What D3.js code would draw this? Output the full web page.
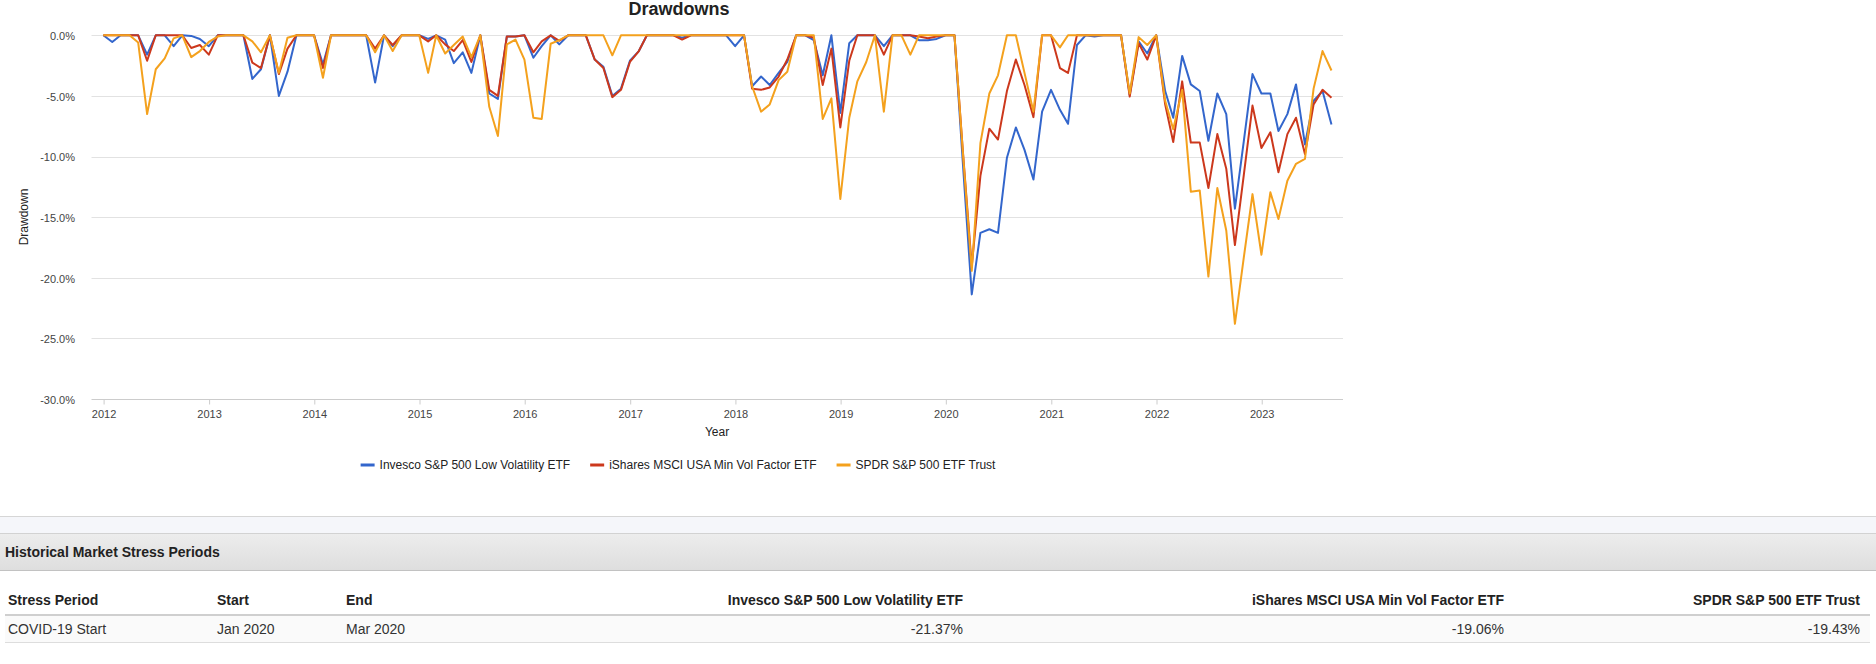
<!DOCTYPE html>
<html>
<head>
<meta charset="utf-8">
<title>Drawdowns</title>
<script src="https://cdnjs.cloudflare.com/ajax/libs/d3/7.8.5/d3.min.js"></script>
<style>
  body { margin: 0; background: #fff; }
  svg text { font-family: Arial, "Liberation Sans", sans-serif; }
</style>
</head>
<body>
<svg id="chart" width="1876" height="664"></svg>
<script>
var seriesNames = [
  "Invesco S&P 500 Low Volatility ETF",
  "iShares MSCI USA Min Vol Factor ETF",
  "SPDR S&P 500 ETF Trust"
];
var seriesColors = ["#3366cc", "#cc381c", "#f4a11d"];
var years = [2012, 2013, 2014, 2015, 2016, 2017, 2018, 2019, 2020, 2021, 2022, 2023];
var yTicks = [0, -5, -10, -15, -20, -25, -30];

// month-end drawdowns (%), Dec 2011 .. Aug 2023
var invesco = [
  0, -0.55, 0, 0, 0, -1.6, 0, 0, -0.9, 0, -0.05, -0.3,
  -0.9, 0, 0, 0, 0, -3.6, -2.8, 0, -5.0, -3.0, 0, 0,
  0, -2.4, 0, 0, 0, 0, 0, -3.9, 0, -0.9, 0, 0,
  0, -0.3, 0, -0.35, -2.3, -1.4, -3.1, 0, -4.8, -5.25, -0.1, -0.1,
  0, -1.85, -0.9, 0, -0.75, 0, 0, 0, -2.0, -2.6, -5.0, -4.4,
  -2.1, -1.3, 0, 0, 0, 0, -0.2, 0, 0, 0, 0, 0,
  -0.9, 0, -4.2, -3.4, -4.1, -3.1, -2.2, 0, 0, -0.4, -3.3, 0,
  -6.4, -0.65, 0, 0, 0, -0.9, 0, 0, 0, -0.4, -0.4, -0.3,
  0, 0, -10.5, -21.37, -16.3, -16.0, -16.3, -10.1, -7.6, -9.45, -11.9, -6.3,
  -4.5, -6.15, -7.3, -0.8, 0, -0.1, 0, 0, 0, -4.9, -0.5, -1.5,
  0, -4.6, -6.8, -1.7, -4.05, -4.6, -8.7, -4.8, -6.5, -14.3, -8.7, -3.2,
  -4.8, -4.8, -7.9, -6.5, -4.05, -9.0, -5.4, -4.6, -7.35
];
var ishares = [
  0, 0, 0, 0, 0, -2.1, 0, 0, 0, 0, -1.05, -0.8,
  -1.6, 0, 0, 0, 0, -2.25, -2.7, 0, -3.2, -1.1, 0, 0,
  0, -2.7, 0, 0, 0, 0, 0, -1.1, 0, -0.8, 0, 0,
  0, -0.5, 0, -0.75, -1.3, -0.4, -2.2, 0, -4.5, -5.0, -0.1, -0.1,
  0, -1.4, -0.5, 0, -0.45, 0, 0, 0, -2.0, -2.7, -5.1, -4.5,
  -2.2, -1.3, 0, 0, 0, 0, -0.35, 0, 0, 0, 0, 0,
  0, 0, -4.4, -4.5, -4.3, -3.4, -2.0, 0, 0, -0.2, -4.1, -1.1,
  -7.6, -2.1, 0, 0, 0, -1.6, 0, 0, 0, -0.1, -0.25, -0.1,
  0, 0, -9.5, -19.06, -11.6, -7.7, -8.6, -4.6, -2.0, -4.1, -6.75, 0,
  0, -2.7, -3.1, 0, 0, 0, 0, 0, 0, -5.05, -0.65, -2.0,
  0, -5.7, -8.8, -3.8, -8.85, -8.85, -12.6, -8.15, -11.0, -17.3, -11.5, -5.8,
  -9.3, -8.0, -11.3, -8.15, -6.8, -9.8, -5.7, -4.5, -5.15
];
var spdr = [
  0, 0, 0, 0, -0.6, -6.5, -2.8, -1.9, -0.25, 0, -1.8, -1.3,
  -0.55, -0.1, 0, 0, 0, -0.5, -1.4, 0, -3.1, -0.2, 0, 0,
  0, -3.5, 0, 0, 0, 0, 0, -1.4, 0, -1.3, 0, 0,
  0, -3.1, 0, -1.5, -0.8, -0.1, -1.8, 0, -5.9, -8.3, -0.75, -0.35,
  -2.0, -6.8, -6.9, -0.7, -0.4, 0, 0, 0, 0, 0, -1.65, 0,
  0, 0, 0, 0, 0, 0, 0, 0, 0, 0, 0, 0,
  0, 0, -4.2, -6.3, -5.7, -3.7, -3.0, 0, 0, 0, -6.9, -5.2,
  -13.5, -6.8, -3.8, -2.2, 0, -6.3, 0, 0, -1.6, 0, 0, 0,
  0, 0, -9.6, -19.43, -8.9, -4.8, -3.3, 0, 0, -3.1, -6.3, 0,
  0, -1.0, 0, 0, 0, 0, 0, 0, 0, -4.8, -0.15, -0.8,
  0, -5.4, -7.75, -4.5, -12.9, -12.8, -19.9, -12.6, -16.1, -23.8, -18.3, -13.1,
  -18.1, -12.95, -15.15, -12.0, -10.6, -10.2, -4.4, -1.3, -2.9
];

var stressColumns = ["Stress Period", "Start", "End"].concat(seriesNames);
var stressRows = [
  ["COVID-19 Start", "Jan 2020", "Mar 2020", -21.37, -19.06, -19.43]
];

// month-end dates, one for each value
var monthEnds = d3.timeMonth
  .range(new Date(2012, 0, 1), new Date(2023, 8, 2))
  .map(function(d) { return d3.timeDay.offset(d, -1); });

// plain hyphen minus, like the source page
var fmt = d3.formatLocale({
  decimal: ".", thousands: ",", grouping: [3], currency: ["$", ""], minus: "-"
});
var fmt1 = fmt.format(".1f"), fmt2 = fmt.format(".2f");

var svg = d3.select("#chart");

var plot = { left: 91.5, right: 1343, top: 35.3, bottom: 399 };

var x = d3.scaleTime()
  .domain([new Date(2011, 10, 20), new Date(2023, 9, 10)])
  .range([plot.left, plot.right]);

var y = d3.scaleLinear()
  .domain([-30, 0])
  .range([plot.bottom, plot.top]);

// title
svg.append("text")
  .attr("x", 679)
  .attr("y", 15)
  .attr("text-anchor", "middle")
  .style("font-size", "18px")
  .style("font-weight", "bold")
  .style("fill", "#222")
  .text("Drawdowns");

// grid + y labels
var grid = svg.append("g").attr("class", "grid");
grid.selectAll("line")
  .data(yTicks)
  .enter()
  .append("line")
  .attr("x1", plot.left)
  .attr("x2", plot.right)
  .attr("y1", function(d) { return Math.round(y(d)) + 0.5; })
  .attr("y2", function(d) { return Math.round(y(d)) + 0.5; })
  .style("stroke", function(d) { return d === -30 ? "#cccccc" : "#e2e2e2"; })
  .style("stroke-width", 1);

grid.selectAll("text")
  .data(yTicks)
  .enter()
  .append("text")
  .attr("x", 75)
  .attr("y", function(d) { return y(d) + 1; })
  .attr("dy", "0.35em")
  .attr("text-anchor", "end")
  .style("font-size", "11px")
  .style("fill", "#444")
  .text(function(d) { return fmt1(d) + "%"; });

// x axis
var xAxis = d3.axisBottom(x)
  .tickValues(years.map(function(yr) { return new Date(yr, 0, 1); }))
  .tickFormat(d3.timeFormat("%Y"))
  .tickSize(5)
  .tickPadding(6);

var gx = svg.append("g")
  .attr("class", "axis axis--x")
  .attr("transform", "translate(0," + (Math.round(plot.bottom) + 0.5) + ")")
  .call(xAxis);
gx.select(".domain").remove();
gx.selectAll(".tick line").style("stroke", "#cccccc");
gx.selectAll(".tick text")
  .style("font-size", "11px")
  .style("fill", "#444")
  .style("font-family", "Arial, 'Liberation Sans', sans-serif");

// axis titles
svg.append("text")
  .attr("transform", "translate(28,217) rotate(-90)")
  .attr("text-anchor", "middle")
  .style("font-size", "12px")
  .style("fill", "#222")
  .text("Drawdown");

svg.append("text")
  .attr("x", 717)
  .attr("y", 436)
  .attr("text-anchor", "middle")
  .style("font-size", "12px")
  .style("fill", "#222")
  .text("Year");

// lines
var line = d3.line()
  .x(function(d, i) { return x(monthEnds[i]); })
  .y(function(d) { return y(d); });

var series = [invesco, ishares, spdr];

svg.append("g")
  .attr("class", "lines")
  .selectAll("path")
  .data(series)
  .enter()
  .append("path")
  .attr("d", line)
  .style("fill", "none")
  .style("stroke", function(d, i) { return seriesColors[i]; })
  .style("stroke-width", 2)
  .style("stroke-linejoin", "round");

// legend
var legend = svg.append("g").attr("class", "legend");
var items = legend.selectAll("g")
  .data(seriesNames)
  .enter()
  .append("g");

items.append("line")
  .attr("x1", 0)
  .attr("x2", 14)
  .attr("y1", 0)
  .attr("y2", 0)
  .style("stroke", function(d, i) { return seriesColors[i]; })
  .style("stroke-width", 3);

items.append("text")
  .attr("x", 19)
  .attr("dy", "0.35em")
  .style("font-size", "12px")
  .style("fill", "#222")
  .text(function(d) { return d; });

var offset = 0;
var widths = [];
items.each(function() {
  var w = 19 + d3.select(this).select("text").node().getComputedTextLength();
  widths.push(w);
});
var total = d3.sum(widths) + 20 * (widths.length - 1);
var startX = 678 - total / 2;
items.attr("transform", function(d, i) {
  var t = "translate(" + (startX + offset) + ",465)";
  offset += widths[i] + 20;
  return t;
});

// stress periods section
var defs = svg.append("defs");
var grad = defs.append("linearGradient")
  .attr("id", "hdr")
  .attr("x1", 0).attr("y1", 0).attr("x2", 0).attr("y2", 1);
grad.append("stop").attr("offset", "0%").attr("stop-color", "#ededed");
grad.append("stop").attr("offset", "100%").attr("stop-color", "#dedede");

svg.append("rect")
  .attr("x", 0).attr("y", 517).attr("width", 1876).attr("height", 16)
  .style("fill", "#f5f6fa");
svg.append("line")
  .attr("x1", 0).attr("x2", 1876).attr("y1", 516.5).attr("y2", 516.5)
  .style("stroke", "#d6d6d6");
svg.append("rect")
  .attr("x", 0).attr("y", 533).attr("width", 1876).attr("height", 37)
  .style("fill", "url(#hdr)");
svg.append("line")
  .attr("x1", 0).attr("x2", 1876).attr("y1", 533.5).attr("y2", 533.5)
  .style("stroke", "#d2d2d2");
svg.append("line")
  .attr("x1", 0).attr("x2", 1876).attr("y1", 570.5).attr("y2", 570.5)
  .style("stroke", "#c2c2c2");

svg.append("text")
  .attr("x", 5)
  .attr("y", 557)
  .style("font-size", "14px")
  .style("font-weight", "bold")
  .style("fill", "#222")
  .text("Historical Market Stress Periods");

var colX = [8, 217, 346, 963, 1504, 1860];
var colAnchor = ["start", "start", "start", "end", "end", "end"];

svg.append("g")
  .selectAll("text")
  .data(stressColumns)
  .enter()
  .append("text")
  .attr("x", function(d, i) { return colX[i]; })
  .attr("y", 605)
  .attr("text-anchor", function(d, i) { return colAnchor[i]; })
  .style("font-size", "14px")
  .style("font-weight", "bold")
  .style("fill", "#222")
  .text(function(d) { return d; });

svg.append("line")
  .attr("x1", 5).attr("x2", 1870).attr("y1", 615).attr("y2", 615)
  .style("stroke", "#cfcfcf")
  .style("stroke-width", 2);

var rows = svg.append("g")
  .selectAll("g")
  .data(stressRows)
  .enter()
  .append("g")
  .attr("transform", function(d, i) { return "translate(0," + (616 + i * 27) + ")"; });

rows.append("rect")
  .attr("x", 5).attr("y", 0).attr("width", 1865).attr("height", 26)
  .style("fill", "#fafafa");
rows.append("line")
  .attr("x1", 5).attr("x2", 1870).attr("y1", 26.5).attr("y2", 26.5)
  .style("stroke", "#dddddd");

rows.selectAll("text")
  .data(function(d) { return d; })
  .enter()
  .append("text")
  .attr("x", function(d, i) { return colX[i]; })
  .attr("y", 18)
  .attr("text-anchor", function(d, i) { return colAnchor[i]; })
  .style("font-size", "14px")
  .style("fill", "#333")
  .text(function(d) { return typeof d === "number" ? fmt2(d) + "%" : d; });
</script>
</body>
</html>
